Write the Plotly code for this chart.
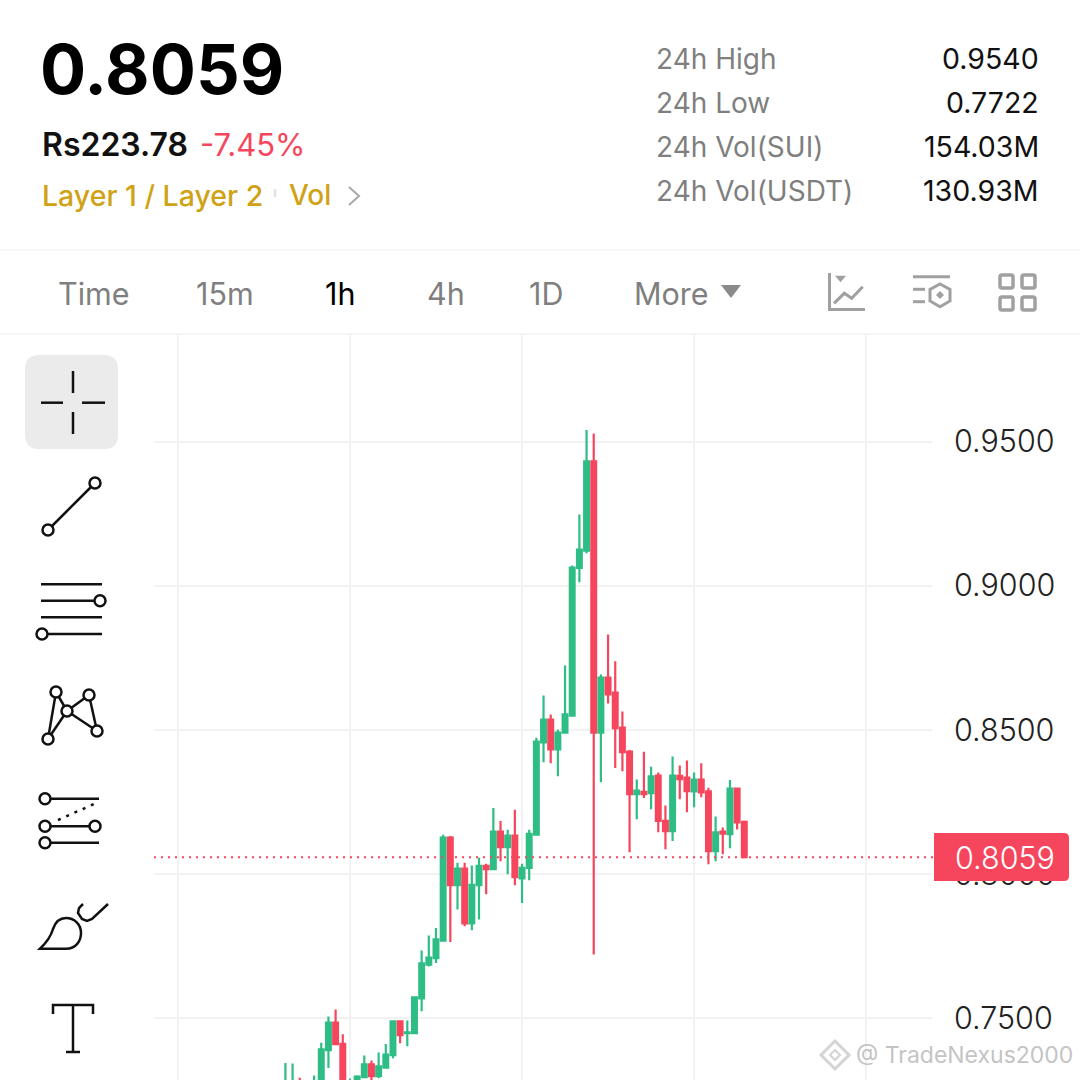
import plotly.graph_objects as go

# -----------------------------
# DATA
# -----------------------------
candle_pos = list(range(-33, 32))

opens = [0.7240, 0.7270, 0.7275, 0.7262, 0.7250, 0.7275, 0.7390, 0.7486, 0.7412, 0.7255,
         0.7275, 0.7297, 0.7341, 0.7300, 0.7330, 0.7373, 0.7490, 0.7449, 0.7449, 0.7570,
         0.7687, 0.7709, 0.7770, 0.8127, 0.7962, 0.8020, 0.7830, 0.7962, 0.8029, 0.8018,
         0.8148, 0.8094, 0.8134, 0.7986, 0.8022, 0.8137, 0.8457, 0.8536, 0.8433, 0.8491,
         0.8550, 0.9062, 0.9122, 0.9431, 0.8491, 0.8682, 0.8630, 0.8508, 0.8425, 0.8278,
         0.8286, 0.8281, 0.8342, 0.8185, 0.8149, 0.8341, 0.8335, 0.8287, 0.8328, 0.8287,
         0.8080, 0.8148, 0.8139, 0.8297, 0.8182]
highs = [0.7346, 0.7344, 0.7295, 0.7280, 0.7302, 0.7416, 0.7507, 0.7531, 0.7445, 0.7292,
         0.7303, 0.7372, 0.7354, 0.7382, 0.7412, 0.7493, 0.7493, 0.7493, 0.7575, 0.7736,
         0.7788, 0.7814, 0.8137, 0.8133, 0.8040, 0.8040, 0.8030, 0.8057, 0.8036, 0.8230,
         0.8185, 0.8154, 0.8224, 0.8036, 0.8154, 0.8473, 0.8620, 0.8554, 0.8501, 0.8724,
         0.9070, 0.9247, 0.9540, 0.9528, 0.8692, 0.8831, 0.8738, 0.8564, 0.8431, 0.8328,
         0.8425, 0.8373, 0.8353, 0.8238, 0.8408, 0.8377, 0.8394, 0.8353, 0.8385, 0.8300,
         0.8200, 0.8162, 0.8327, 0.8297, 0.8186]
lows = [0.7220, 0.7230, 0.7240, 0.7235, 0.7235, 0.7260, 0.7328, 0.7411, 0.7240, 0.7235,
        0.7260, 0.7293, 0.7278, 0.7293, 0.7327, 0.7362, 0.7414, 0.7404, 0.7447, 0.7525,
        0.7680, 0.7692, 0.7768, 0.7765, 0.7878, 0.7820, 0.7806, 0.7843, 0.7931, 0.8018,
        0.8045, 0.8000, 0.7962, 0.7900, 0.7979, 0.8135, 0.8388, 0.8385, 0.8340, 0.8487,
        0.8548, 0.9012, 0.9113, 0.7722, 0.8319, 0.8592, 0.8368, 0.8357, 0.8076, 0.8191,
        0.8264, 0.8225, 0.8146, 0.8087, 0.8115, 0.8260, 0.8215, 0.8232, 0.8267, 0.8035,
        0.8045, 0.8069, 0.8090, 0.8155, 0.8059]
closes = [0.7270, 0.7280, 0.7262, 0.7270, 0.7275, 0.7393, 0.7486, 0.7411, 0.7262, 0.7275,
          0.7299, 0.7341, 0.7300, 0.7334, 0.7375, 0.7490, 0.7442, 0.7452, 0.7573, 0.7691,
          0.7711, 0.7774, 0.8127, 0.7962, 0.8020, 0.7830, 0.7963, 0.8029, 0.8018, 0.8148,
          0.8094, 0.8134, 0.7990, 0.8022, 0.8140, 0.8460, 0.8536, 0.8433, 0.8491, 0.8554,
          0.9063, 0.9125, 0.9431, 0.8491, 0.8682, 0.8623, 0.8506, 0.8423, 0.8278, 0.8290,
          0.8278, 0.8339, 0.8185, 0.8149, 0.8342, 0.8330, 0.8288, 0.8328, 0.8284, 0.8080,
          0.8145, 0.8141, 0.8297, 0.8180, 0.8059]

last_price = 0.8059
y_ticks = [0.75, 0.80, 0.85, 0.90, 0.95]

stat_labels = ["24h High", "24h Low", "24h Vol(SUI)", "24h Vol(USDT)"]
stat_values = ["0.9540", "0.7722", "154.03M", "130.93M"]
tab_labels = ["Time", "15m", "1h", "4h", "1D", "More"]

GREEN = "#2EBD85"
RED = "#F6465D"
GOLD = "#D0A215"
GREY = "#7F7F7F"
ICON = "#A0A0A0"
FONT = "Inter"


# -----------------------------
# HELPERS (page pixels -> paper)
# -----------------------------
def px(x):
    return x / 1080


def py(y):
    return 1 - y / 1080


def path(points, close=False):
    s = "M" + " L".join(f"{px(x)},{py(y)}" for x, y in points)
    return s + (" Z" if close else "")


def poly(points, color="#111111", width=2.5, close=False, fill=None):
    return dict(type="path", xref="paper", yref="paper", path=path(points, close),
                line=dict(color=color, width=width), fillcolor=fill, layer="above")


def circle(cx, cy, r=5.5, color="#111111", width=2.5):
    return dict(type="circle", xref="paper", yref="paper",
                x0=px(cx - r), x1=px(cx + r), y0=py(cy + r), y1=py(cy - r),
                line=dict(color=color, width=width), fillcolor="white", layer="above")


def round_rect(x0, y0, x1, y1, r, color, fill, width=0):
    c = [(x0 + r, y0), (x1 - r, y0), (x1, y0), (x1, y0 + r), (x1, y1 - r), (x1, y1),
         (x1 - r, y1), (x0 + r, y1), (x0, y1), (x0, y1 - r), (x0, y0 + r), (x0, y0)]
    p = lambda q: f"{px(q[0])},{py(q[1])}"
    s = (f"M{p(c[0])} L{p(c[1])} Q{p(c[2])} {p(c[3])} L{p(c[4])} Q{p(c[5])} {p(c[6])} "
         f"L{p(c[7])} Q{p(c[8])} {p(c[9])} L{p(c[10])} Q{p(c[11])} {p(c[0])} Z")
    return dict(type="path", xref="paper", yref="paper", path=s,
                line=dict(color=color, width=width), fillcolor=fill, layer="above")


def text(x, y, s, size, color="#000000", anchor="left", weight=400):
    return dict(xref="paper", yref="paper", x=px(x), y=py(y), text=s, showarrow=False,
                xanchor=anchor, yanchor="middle", borderpad=0,
                font=dict(family=FONT, size=size, color=color, weight=weight))


# -----------------------------
# CANDLES
# -----------------------------
fig = go.Figure(
    go.Candlestick(
        x=candle_pos,
        open=opens,
        high=highs,
        low=lows,
        close=closes,
        whiskerwidth=0,
        increasing=dict(line=dict(color=GREEN, width=2.2), fillcolor=GREEN),
        decreasing=dict(line=dict(color=RED, width=2.2), fillcolor=RED),
        hoverinfo="skip",
    )
)

# -----------------------------
# SHAPES
# -----------------------------
shapes = [
    # separators
    poly([(0, 250), (1080, 250)], "#F0F0F0", 1),
    poly([(0, 334), (1080, 334)], "#F5F5F5", 2),
    # last price
    dict(type="line", xref="paper", yref="y", x0=px(154), x1=px(934), y0=last_price, y1=last_price,
         line=dict(color=RED, width=2, dash="2px,5px"), layer="above"),
    round_rect(934, 833, 1069, 881, 5, RED, RED),
    round_rect(934, 833, 960, 881, 0, RED, RED),
    # header separator, chevron, more triangle
    poly([(275, 189), (275, 197)], "#E2E2E2", 2.5),
    poly([(349, 187), (359, 196), (349, 205)], "#A8A8A8", 2),
    poly([(721, 285), (741, 285), (731, 298)], "#8A8A8A", 0, True, "#8A8A8A"),
    # toolbar crosshair
    round_rect(25, 355, 118, 449, 14, "#EBEBEB", "#EBEBEB"),
    poly([(73, 371), (73, 393)]),
    poly([(73, 412), (73, 434)]),
    poly([(41, 402.7), (63, 402.7)]),
    poly([(82, 402.7), (105, 402.7)]),
    # trend line
    poly([(48, 530), (95, 483)]),
    circle(48, 530),
    circle(95, 483),
    # parallel lines
    poly([(41, 584.3), (102, 584.3)]),
    poly([(41, 600.7), (95, 600.7)]),
    poly([(41, 617.3), (102, 617.3)]),
    poly([(48, 634), (102, 634)]),
    circle(100, 600.7),
    circle(42, 634),
    # pattern
    poly([(48, 739), (56, 692)]),
    poly([(48, 739), (67, 711)]),
    poly([(56, 692), (67, 711)]),
    poly([(67, 711), (89, 695)]),
    poly([(89, 695), (97, 731)]),
    poly([(67, 711), (97, 731)]),
    circle(48, 739),
    circle(67, 711),
    circle(97, 731),
    circle(56, 692),
    circle(89, 695),
    # fib
    poly([(45, 798.7), (99, 798.7)]),
    poly([(45, 826.3), (95, 826.3)]),
    poly([(45, 842.7), (99, 842.7)]),
    dict(type="line", xref="paper", yref="paper", x0=px(58), x1=px(94), y0=py(820), y1=py(804),
         line=dict(color="#111111", width=2.5, dash="3px,6px"), layer="above"),
    circle(45, 798.7),
    circle(45, 826.3),
    circle(95, 826.3),
    circle(45, 842.7),
    # brush
    poly([(108, 904), (92, 919), (87, 921), (82, 919), (78, 913), (79, 908), (83, 904)]),
    dict(type="path", xref="paper", yref="paper",
         path=f"M{px(40)},{py(948.7)} L{px(66)},{py(948.7)} "
              f"C{px(76)},{py(948.7)} {px(81)},{py(941)} {px(81)},{py(933)} "
              f"C{px(81)},{py(924)} {px(74)},{py(918)} {px(66)},{py(918)} "
              f"C{px(58)},{py(918)} {px(55)},{py(923)} {px(53)},{py(929)} "
              f"C{px(51)},{py(936)} {px(46)},{py(943)} {px(40)},{py(948.7)} Z",
         line=dict(color="#111111", width=2.5), layer="above"),
    # text tool
    poly([(53, 1014), (53, 1005), (93, 1005), (93, 1014)]),
    poly([(73, 1005), (73, 1052)]),
    poly([(66, 1052), (80, 1052)]),
    # top right: chart icon
    poly([(829.5, 273), (829.5, 309.5), (865, 309.5)], ICON, 3),
    poly([(835, 275.7), (846, 275.7), (840.5, 282.3)], ICON, 0, True, ICON),
    poly([(834, 303.3), (844.3, 293.3), (851.7, 298.3), (862.7, 286.7)], ICON, 3),
    # top right: settings icon
    poly([(913, 276.7), (950, 276.7)], ICON, 3),
    poly([(913, 289.3), (925, 289.3)], ICON, 3),
    poly([(913, 301.7), (925, 301.7)], ICON, 3),
    poly([(940, 284), (950, 289.5), (950, 301), (940, 306.7), (930, 301), (930, 289.5)], ICON, 3, True),
    poly([(940, 291), (944, 295), (940, 299), (936, 295)], ICON, 0, True, ICON),
    # top right: grid icon
    round_rect(1000, 275, 1013, 288, 2, ICON, "rgba(0,0,0,0)", 3.5),
    round_rect(1022, 275, 1035, 288, 2, ICON, "rgba(0,0,0,0)", 3.5),
    round_rect(1000, 297, 1013, 310, 2, ICON, "rgba(0,0,0,0)", 3.5),
    round_rect(1022, 297, 1035, 310, 2, ICON, "rgba(0,0,0,0)", 3.5),
    # watermark logo
    poly([(835, 1041), (849, 1055), (835, 1069), (821, 1055)], "#D4D4D4", 3, True),
    poly([(835, 1050), (840, 1055), (835, 1060), (830, 1055)], "#D4D4D4", 2, True),
]

# -----------------------------
# TEXT
# -----------------------------
annotations = [
    text(39, 70, "0.8059", 68.5, "#000000", weight=700),
    text(41, 144.5, "Rs223.78", 32, "#111111", weight=600),
    text(199, 144.5, "-7.45%", 31, RED, weight=400),
    text(41, 195, "Layer 1 / Layer 2", 28.5, GOLD, weight=500),
    text(288, 195, "Vol", 28, GOLD, weight=500),
    text(1005, 857, "0.8059", 30.5, "#FFFFFF", "center", 300),
    text(855, 1055, "@ TradeNexus2000", 23, "#C4C4C4"),
]

for i, label in enumerate(stat_labels):
    annotations.append(text(655, 59 + 44 * i, label, 28, GREY))
    annotations.append(text(1040, 59 + 44 * i, stat_values[i], 28.5, "#111111", "right"))

tab_x = [57, 195, 324, 426, 528, 633]
for i, label in enumerate(tab_labels):
    annotations.append(text(tab_x[i], 293, label, 30.5, "#000000" if label == "1h" else GREY))

fig.update_layout(
    width=1080,
    height=1080,
    margin=dict(l=0, r=0, t=0, b=0),
    paper_bgcolor="white",
    plot_bgcolor="white",
    showlegend=False,
    boxgap=0.05,
    xaxis=dict(
        domain=[154 / 1080, 932 / 1080],
        range=[-51.33, 57.18],
        rangeslider=dict(visible=False),
        tick0=0,
        dtick=24,
        showticklabels=False,
        ticks="",
        gridcolor="#F2F2F2",
        gridwidth=1.5,
        zeroline=False,
    ),
    yaxis=dict(
        domain=[0, 745 / 1080],
        range=[0.72868, 0.98692],
        side="right",
        tickvals=y_ticks,
        tickformat=".4f",
        ticks="",
        ticklabelstandoff=21,
        gridcolor="#F2F2F2",
        gridwidth=1.5,
        zeroline=False,
        tickfont=dict(family=FONT, size=30.5, color="#222222", weight=300),
    ),
    shapes=shapes,
    annotations=annotations,
)

fig.write_html("out.html", config=dict(displayModeBar=False), post_script="document.body.style.margin='0';")
